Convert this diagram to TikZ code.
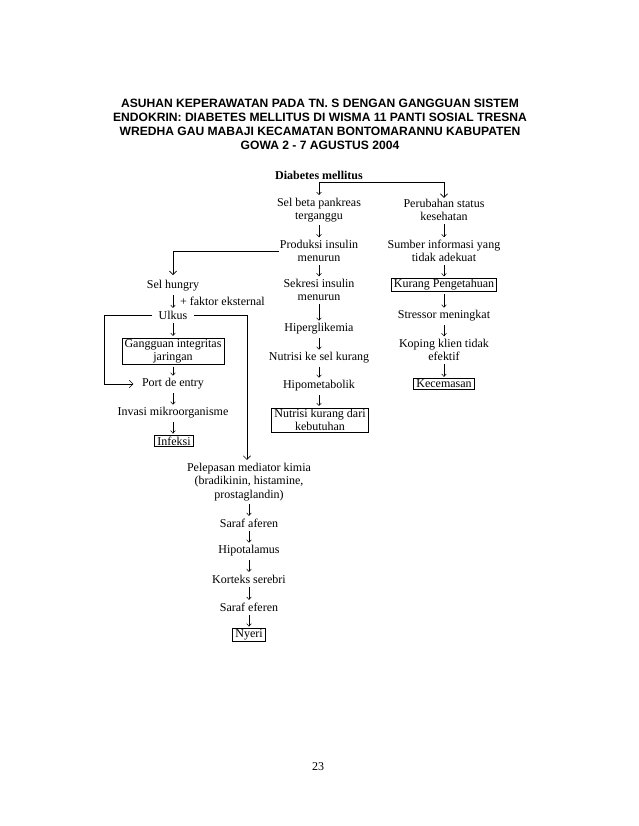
\documentclass[tikz,border=0pt]{standalone}
\usepackage{fontspec}
\setmainfont{Liberation Serif}
\newfontfamily\titlefont{Liberation Sans}
\usetikzlibrary{arrows.meta}
\begin{document}
\begin{tikzpicture}[x=0.959pt,y=-0.959pt,
  txt/.style={font=\fontsize{11.5}{12.8}\selectfont, align=center, inner sep=1pt},
  boxed/.style={txt, draw, line width=0.6pt, inner xsep=2.5pt, inner ysep=1.2pt},
  sarrow/.style={-{Straight Barb[length=2.5pt,width=4.5pt]}, line width=0.5pt, shorten <=2pt, shorten >=1.5pt},
  larrow/.style={line width=0.6pt, -{Straight Barb[length=3.5pt,width=7pt]}}]
\useasboundingbox (0,0) rectangle (638,826);
% title
\node[font=\titlefont\bfseries\fontsize{11.6}{13.5}\selectfont, align=center, inner sep=0pt] (title) at (320,124)
 {ASUHAN KEPERAWATAN PADA TN. S DENGAN GANGGUAN SISTEM\\
  ENDOKRIN: DIABETES MELLITUS DI WISMA 11 PANTI SOSIAL TRESNA\\
  WREDHA GAU MABAJI KECAMATAN BONTOMARANNU KABUPATEN\\
  GOWA 2 - 7 AGUSTUS 2004};
% middle column
\node[txt, font=\fontsize{11.5}{12.8}\selectfont\bfseries] (dm) at (319,175) {Diabetes mellitus};
\node[txt] (sbp) at (319,210) {Sel beta pankreas\\terganggu};
\node[txt] (pi) at (319,251) {Produksi insulin\\menurun};
\node[txt] (si) at (319,290) {Sekresi insulin\\menurun};
\node[txt] (hg) at (319,329) {Hiperglikemia};
\node[txt] (nsk) at (319,358) {Nutrisi ke sel kurang};
\node[txt] (hm) at (319,386) {Hipometabolik};
\node[boxed] (nkd) at (320,420) {Nutrisi kurang dari\\kebutuhan};
% right column
\node[txt] (ps) at (444,210) {Perubahan status\\kesehatan};
\node[txt] (sit) at (444,251) {Sumber informasi yang\\tidak adekuat};
\node[boxed] (kp) at (444,285) {Kurang Pengetahuan};
\node[txt] (sm) at (444,316) {Stressor meningkat};
\node[txt] (kk) at (444,350) {Koping klien tidak\\efektif};
\node[boxed] (kc) at (444,384) {Kecemasan};
% left column
\node[txt] (sh) at (173,286) {Sel hungry};
\node[txt] (ul) at (173,315) {Ulkus};
\node[boxed] (gi) at (173,351) {Gangguan integritas\\jaringan};
\node[txt] (pe) at (173,384) {Port de entry};
\node[txt] (im) at (173,413) {Invasi mikroorganisme};
\node[boxed] (inf) at (174,441) {Infeksi};
% lower column
\node[txt] (pm) at (249,482) {Pelepasan mediator kimia\\(bradikinin, histamine,\\prostaglandin)};
\node[txt] (sa) at (249,523) {Saraf aferen};
\node[txt] (hp) at (249,551) {Hipotalamus};
\node[txt] (ks) at (249,579) {Korteks serebri};
\node[txt] (se) at (249,607) {Saraf eferen};
\node[boxed] (ny) at (249,635) {Nyeri};
% page number
\node[txt] (pn) at (318,767) {23};
% short arrows
\foreach \a/\b in {dm/sbp,sbp/pi,pi/si,si/hg,hg/nsk,nsk/hm,hm/nkd,
                   ps/sit,sit/kp,kp/sm,sm/kk,kk/kc,
                   ul/gi,gi/pe,pe/im,im/inf,
                   pm/sa,sa/hp,hp/ks,ks/se,se/ny}
  \draw[sarrow] (\a.south) -- (\a.south |- \b.north);
\draw[sarrow] (sh.south) -- (sh.south |- ul.north)
  node[midway, right, txt, xshift=5.5pt] {+ faktor eksternal};
% long connectors
\coordinate (dmj) at ([yshift=-1.5pt]dm.south);
\draw[larrow] (dmj) -| (ps.north);
\draw[larrow, shorten >=4pt] (pi.west) -| (sh.north);
\coordinate (ulL) at (104,315);
\draw[larrow, shorten <=5pt, shorten >=7pt] (ul.west) -- (ulL) |- (pe.west);
\draw[larrow, shorten <=5pt, shorten >=2pt] (ul.east) -| ([xshift=-2pt]pm.north);
\end{tikzpicture}
\end{document}
